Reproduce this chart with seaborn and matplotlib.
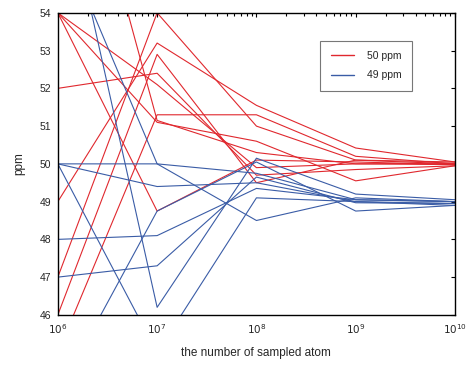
import numpy as np
import pandas as pd
import matplotlib
matplotlib.use("Agg")
import matplotlib.pyplot as plt
import seaborn as sns
from matplotlib.lines import Line2D

sns.set_theme(style="white")
plt.rcParams['font.family'] = ['Liberation Sans', 'DejaVu Sans']

samples = [1e6, 1e7, 1e8, 1e9, 1e10]

# 50 ppm runs (values at each sample size)
red_runs = [
    [54.0, 52.1, 49.9, 50.0, 50.02],
    [54.0, 51.1, 50.6, 49.55, 49.95],
    [54.0, 48.75, 50.1, 50.05, 49.98],
    [52.0, 52.4, 49.7, 49.85, 49.95],
    [49.0, 53.2, 51.55, 50.42, 50.05],
    [47.0, 54.0, 51.0, 50.1, 50.0],
    [46.0, 52.9, 49.5, 50.1, 50.05],
    [45.0, 51.3, 51.3, 50.2, 50.0],
    [60.8, 51.15, 50.3, 50.0, 49.98],
]
# 49 ppm runs
blue_runs = [
    [50.0, 50.0, 49.75, 49.05, 49.0],
    [50.0, 49.4, 49.5, 49.0, 48.95],
    [50.0, 45.0, 49.1, 49.0, 48.9],
    [48.0, 48.1, 49.35, 49.05, 49.0],
    [47.0, 47.3, 49.65, 48.97, 48.95],
    [58.0, 46.2, 50.15, 49.2, 49.05],
    [56.2, 50.0, 48.5, 49.1, 49.0],
    [43.9, 48.75, 50.05, 48.75, 48.9],
]
labels = ["50 ppm", "49 ppm"]
colors = {"50 ppm": "#e0282e", "49 ppm": "#3a5ca6"}

rows = []
for lab, runs in zip(labels, [red_runs, blue_runs]):
    for i, run in enumerate(runs):
        for xv, yv in zip(samples, run):
            rows.append({"x": xv, "ppm": yv, "group": lab, "run": f"{lab}-{i}"})
df = pd.DataFrame(rows)

fig = plt.figure(figsize=(4.74, 3.67), dpi=100)
ax = fig.add_axes([0.122, 0.142, 0.838, 0.823])
sns.lineplot(data=df, x="x", y="ppm", hue="group", units="run", estimator=None,
             palette=colors, linewidth=0.8, ax=ax, legend=False, sort=False)
ax.set_xscale("log")
ax.set_xlim(1e6, 1e10)
ax.set_ylim(46, 54)
ax.set_yticks(range(46, 55))
ax.set_xticks(samples)
ax.set_xticklabels([r"$10^{6}$", r"$10^{7}$", r"$10^{8}$", r"$10^{9}$", r"$10^{10}$"])
ax.tick_params(axis="both", which="both", direction="in", top=True, right=True,
               labelsize=7.5, color="black", length=3, width=0.8, pad=5)
ax.tick_params(axis="both", which="minor", length=2)
ax.yaxis.set_minor_locator(matplotlib.ticker.NullLocator())
for s in ax.spines.values():
    s.set_color("black")
    s.set_linewidth(1.0)
ax.set_xlabel("the number of sampled atom", fontsize=8.5, labelpad=8)
ax.set_ylabel("ppm", fontsize=8.5, labelpad=10)

handles = [Line2D([], [], color=colors[l], linewidth=1.0) for l in labels]
leg = ax.legend(handles, labels, loc="upper right", bbox_to_anchor=(0.905, 0.925),
                fontsize=7.5, frameon=True, fancybox=False, edgecolor="#555555",
                handlelength=2.2, borderpad=1.0, labelspacing=0.9, handletextpad=1.3)
leg.get_frame().set_linewidth(0.8)

fig.savefig("out.png", dpi=100)
